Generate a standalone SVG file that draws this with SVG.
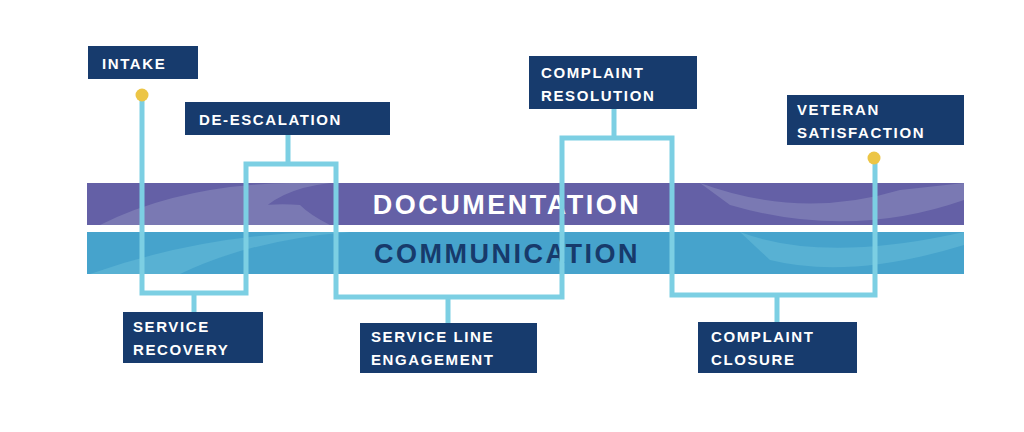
<svg xmlns="http://www.w3.org/2000/svg" width="1024" height="432" viewBox="0 0 1024 432">
<style>
.box{fill:#173b6d}
.bt{fill:#fff;font-family:"Liberation Sans",Arial,sans-serif;font-weight:bold;font-size:15px;letter-spacing:1.6px}
.ln{fill:none;stroke:#7ccfe3;stroke-width:5}
.band{font-family:"Liberation Sans",Arial,sans-serif;font-weight:bold;font-size:27px;letter-spacing:2.5px;text-anchor:middle}
</style>
<rect width="1024" height="432" fill="#fff"/>
<g id="bands">
<rect x="87" y="183" width="877" height="42" fill="#6460a6"/>
<path d="M100 225 Q180 185 290 183 L330 183 Q270 190 250 225 Z M170 225 Q250 200 300 205 Q310 215 330 225 Z" fill="#7a79b3"/>
<path d="M700 183 Q800 220 900 190 L964 183 L964 200 Q850 240 730 205 Z" fill="#7a79b3"/>
<rect x="87" y="232" width="877" height="42" fill="#46a3cc"/>
<path d="M90 274 Q200 235 320 232 L350 232 Q250 240 180 274 Z" fill="#58b1d3"/>
<path d="M740 232 Q820 262 950 235 L964 232 L964 245 Q850 280 770 260 Z" fill="#58b1d3"/>
<text class="band" x="507" y="214" fill="#fff">DOCUMENTATION</text>
<text class="band" x="507" y="263" fill="#173a6b">COMMUNICATION</text>
</g>
<g id="connectors">
<path class="ln" d="M142 95 V293 H246 V164 H336 V297 H562 V138 H672 V295 H875 V158"/>
<path class="ln" d="M194 293 V312 M288 135 V164 M448 297 V323 M614 109 V138 M777 295 V322"/>
<circle cx="142" cy="95" r="6.5" fill="#ecc545"/>
<circle cx="874" cy="158" r="6.5" fill="#ecc545"/>
</g>
<g id="intake"><rect class="box" x="88" y="46" width="110" height="33"/><text class="bt" x="102" y="69">INTAKE</text></g>
<g id="deescalation"><rect class="box" x="185" y="102" width="205" height="33"/><text class="bt" x="199" y="125">DE-ESCALATION</text></g>
<g id="resolution"><rect class="box" x="529" y="56" width="168" height="53"/><text class="bt" x="541" y="78">COMPLAINT</text><text class="bt" x="541" y="101">RESOLUTION</text></g>
<g id="veteran"><rect class="box" x="787" y="95" width="177" height="50"/><text class="bt" x="797" y="115">VETERAN</text><text class="bt" x="797" y="138">SATISFACTION</text></g>
<g id="recovery"><rect class="box" x="123" y="312" width="140" height="51"/><text class="bt" x="133" y="332">SERVICE</text><text class="bt" x="133" y="355">RECOVERY</text></g>
<g id="sle"><rect class="box" x="360" y="323" width="177" height="50"/><text class="bt" x="371" y="342">SERVICE LINE</text><text class="bt" x="371" y="365">ENGAGEMENT</text></g>
<g id="closure"><rect class="box" x="698" y="322" width="159" height="51"/><text class="bt" x="711" y="342">COMPLAINT</text><text class="bt" x="711" y="365">CLOSURE</text></g>
</svg>
